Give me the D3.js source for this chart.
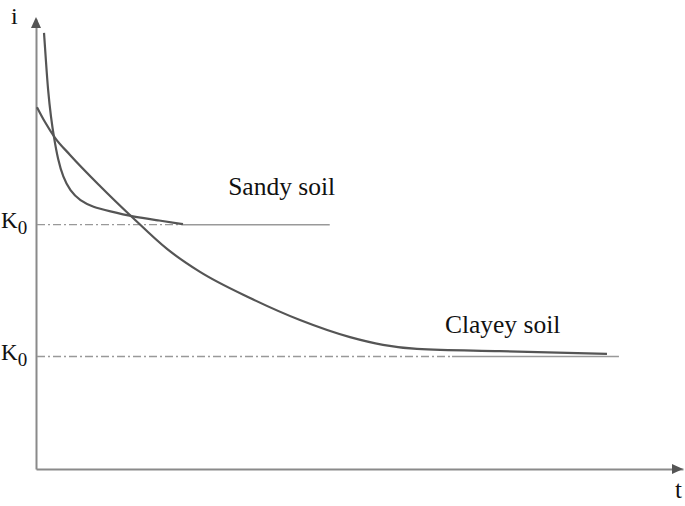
<!DOCTYPE html>
<html><head><meta charset="utf-8">
<script src="https://cdn.jsdelivr.net/npm/d3@7"></script>
<style>body{margin:0;background:#fff}svg{display:block}</style>
</head><body><svg id="c" width="685" height="506"></svg>
<script>
// Data (t, i) in arbitrary units
const sandyT = [1.24,1.55,1.85,2.32,2.78,3.40,4.17,5.26,6.80,8.81,11.36,14.84,19.17,22.72];
const sandyI = [96.9,90.4,84.2,78.0,73.6,68.7,64.9,61.8,59.6,58.2,57.3,56.1,55.2,54.4];
const clayT = [0.15,1.39,2.94,5.26,9.89,14.84,20.25,25.35,33.08,40.80,48.53,53.63,58.89,71.72,88.25];
const clayI = [80.4,77.1,73.6,69.8,62.9,56.0,48.9,43.8,38.0,33.1,29.3,27.6,26.7,26.2,25.6];
const k0Values = [54.3, 25.0];           // K0 levels for sandy and clayey soil
const k0DashEnd = [22.7, 64.3];          // dash-dot part ends
const k0SolidEnd = [45.4, 90.1];         // solid part ends
const seriesLabels = ["Sandy soil","Clayey soil"];
const labelPos = [[29.7,60.9],[63.2,30.2]]; // label anchor (t,i)

const FONT = '"Liberation Serif", Tinos, "Times New Roman", Times, "DejaVu Serif", serif';
const svg = d3.select("#c").attr("font-family", FONT);
const x = d3.scaleLinear().domain([0,100]).range([36,683]);
const y = d3.scaleLinear().domain([0,100]).range([469,19]);

// axes (no ticks)
const ax = svg.append("g").attr("transform","translate(0,469)")
  .call(d3.axisBottom(x).tickValues([]).tickSizeOuter(0));
ax.select(".domain").attr("stroke","#8a8a8a").attr("stroke-width",2);
const ay = svg.append("g").attr("transform","translate(36,0)")
  .call(d3.axisLeft(y).tickValues([]).tickSizeOuter(0));
ay.select(".domain").attr("stroke","#8a8a8a").attr("stroke-width",2);
svg.selectAll("g").attr("font-family", FONT);
// arrow heads
svg.append("path").attr("d",`M${x(100)},469 L${x(100)-11},464 L${x(100)-11},474 Z`).attr("fill","#555");
svg.append("path").attr("d",`M36,${y(100)-2} L31,${y(100)+9} L41,${y(100)+9} Z`).attr("fill","#555");

// K0 lines
k0Values.forEach((v,k)=>{
  svg.append("line").attr("x1",x(0)+1).attr("x2",x(k0DashEnd[k])).attr("y1",y(v)).attr("y2",y(v))
    .attr("stroke","#999").attr("stroke-width",1.3).attr("stroke-dasharray","8,3,2,3");
  svg.append("line").attr("x1",x(k0DashEnd[k])).attr("x2",x(k0SolidEnd[k])).attr("y1",y(v)).attr("y2",y(v))
    .attr("stroke","#999").attr("stroke-width",1.5);
  const t = svg.append("text").attr("x",1).attr("y",y(v)+3).attr("font-size",23).attr("fill","#111");
  t.append("tspan").text("K");
  t.append("tspan").attr("font-size",19).attr("dy",6).text("0");
});

const sandyLine = d3.line().x(d=>x(d[0])).y(d=>y(d[1])).curve(d3.curveBasis);
const clayLine = d3.line().x(d=>x(d[0])).y(d=>y(d[1])).curve(d3.curveMonotoneX);
[[sandyT,sandyI,sandyLine],[clayT,clayI,clayLine]].forEach(([T,I,gen])=>{
  svg.append("path").attr("d",gen(T.map((t,j)=>[t,I[j]])))
    .attr("fill","none").attr("stroke","#555").attr("stroke-width",2.2);
});

seriesLabels.forEach((s,k)=>{
  svg.append("text").attr("x",x(labelPos[k][0])).attr("y",y(labelPos[k][1])).attr("font-size",25.5).attr("fill","#111").text(s);
});
svg.append("text").attr("x",11).attr("y",24).attr("font-size",24).attr("fill","#111").text("i");
svg.append("text").attr("x",675).attr("y",498).attr("font-size",25).attr("fill","#111").text("t");
</script></body></html>
